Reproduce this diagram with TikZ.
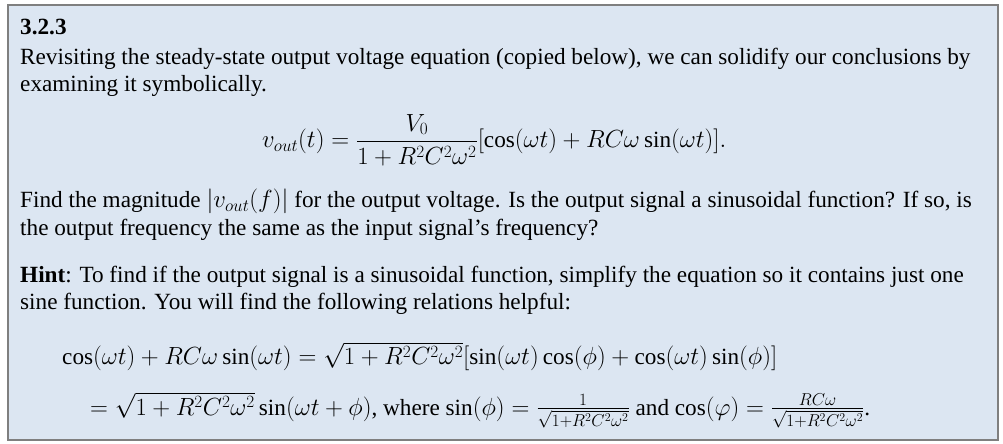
\documentclass[tikz,border=0pt]{standalone}
\usepackage{amsmath}
\usepackage{fontspec}
\setmainfont{Liberation Serif}
\definecolor{boxbg}{HTML}{DCE6F2}
\definecolor{boxline}{HTML}{7F7F7F}
\begin{document}
\begin{tikzpicture}[x=1bp,y=-1bp,
  txt/.style={anchor=base west,inner sep=0pt,font=\fontsize{23.3}{28}\selectfont}]
\useasboundingbox (0,0) rectangle (1003,444);
\draw[boxline,fill=boxbg,line width=1.5bp] (8,5) rectangle (998,440);
\node[txt] (t0) at (20,35) {\textbf{3.2.3}};
\node[txt] (t1) at (20,65) {Revisiting the steady-state output voltage equation (copied below), we can solidify our conclusions by};
\node[txt] (t2) at (20,92) {examining it symbolically.};
\node[txt] (eq) at (262,148) {$\displaystyle v_{out}(t)=\frac{V_0}{1+R^2C^2\omega^2}[\cos(\omega t)+RC\omega\sin(\omega t)].$};
\node[txt] (t3) at (20,208) {Find the magnitude $|v_{out}(f)|$ for the output voltage. Is the output signal a sinusoidal function? If so, is};
\node[txt] (t4) at (20,236) {the output frequency the same as the input signal’s frequency?};
\node[txt] (t5) at (20,283) {\textbf{Hint}: To find if the output signal is a sinusoidal function, simplify the equation so it contains just one};
\node[txt] (t6) at (20,310) {sine function. You will find the following relations helpful:};
\node[txt] (e1) at (62,365) {$\cos(\omega t)+RC\omega\sin(\omega t)=\sqrt{1+R^2C^2\omega^2}[\sin(\omega t)\cos(\phi)+\cos(\omega t)\sin(\phi)]$};
\node[txt] (e2) at (90,415) {$=\sqrt{1+R^2C^2\omega^2}\sin(\omega t+\phi)$, where $\sin(\phi)=\frac{1}{\sqrt{1+R^2C^2\omega^2}}$ and $\cos(\varphi)=\frac{RC\omega}{\sqrt{1+R^2C^2\omega^2}}$.};
\end{tikzpicture}
\end{document}
